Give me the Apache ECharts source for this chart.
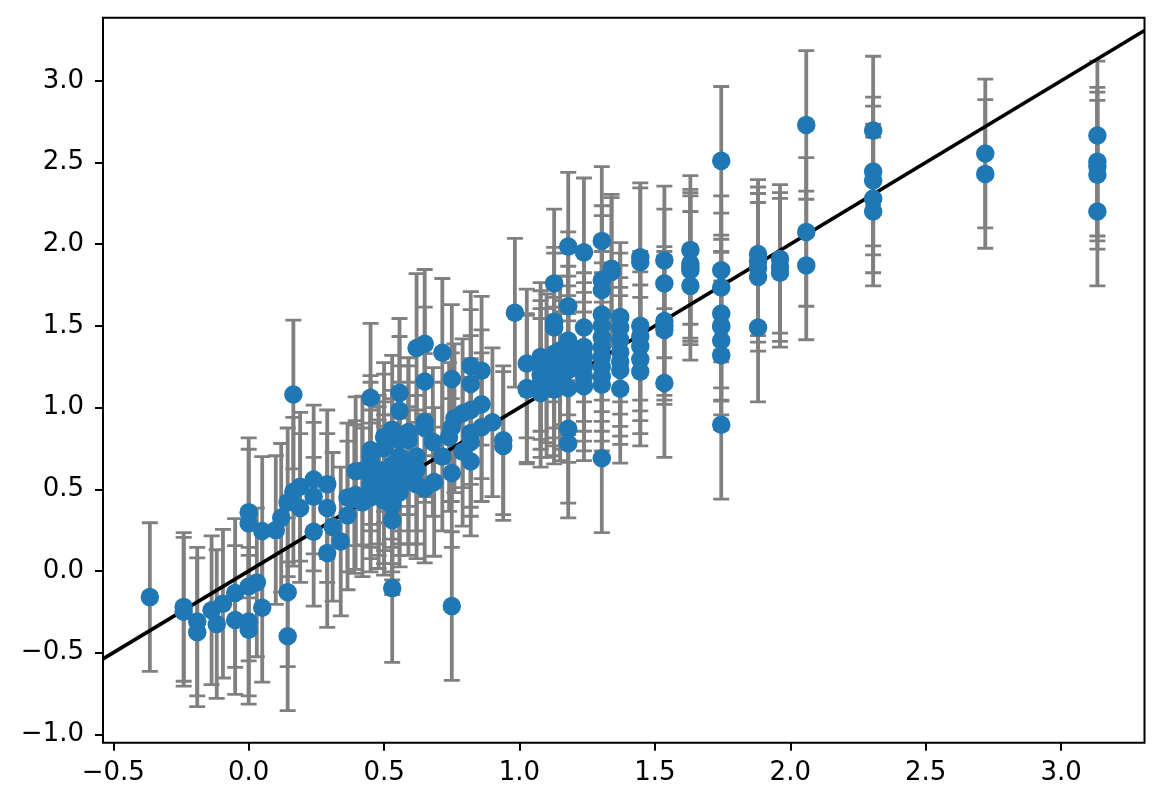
<!DOCTYPE html>
<html><head><meta charset="utf-8">
<style>html,body{margin:0;padding:0;background:#fff}#c{width:1163px;height:807px}</style>
<script src="https://cdn.jsdelivr.net/npm/echarts@6/dist/echarts.min.js"></script>
</head><body><div id="c"></div>
<script>
const xTicks = [-0.5,0,0.5,1,1.5,2,2.5,3];
const yTicks = [-1,-0.5,0,0.5,1,1.5,2,2.5,3];
const errorHalfWidth = 0.455;
const lineEnds = [-0.538, 3.308];
const pointX = [
 3.134,3.134,3.134,3.134,3.134, 2.72,2.72, 2.306,2.306,2.306,2.306,2.306,
 2.059,2.059,2.059, 1.962,1.962,1.962, 1.881,1.881,1.881,1.881,1.881,
 1.745,1.745,1.745,1.745,1.745,1.745,1.745,1.745,1.745,
 1.631,1.631,1.631,1.631,1.631, 1.535,1.535,1.535,1.535,1.535,1.535,
 1.446,1.446,1.446,1.446,1.446,1.446,1.446,
 1.372,1.372,1.372,1.372,1.372,1.372,1.372, 1.34,1.34,
 1.304,1.304,1.304,1.304,1.304,1.304,1.304,1.304,1.304,1.304,1.304,1.304,
 1.238,1.238,1.238,1.238,1.238,1.238,1.238,
 1.18,1.18,1.18,1.18,1.18,1.18,1.18,1.18,1.18,
 1.15,1.15,1.15,
 1.128,1.128,1.128,1.128,1.128,1.128,1.128,1.128,
 1.10,1.10,
 1.078,1.078,1.078,1.078,1.078, 1.027,1.027,1.027, 0.983, 0.94,0.94, 0.90,
 0.86,0.86,0.86, 0.82,0.82,0.82,0.82,0.82,0.82, 0.79,0.79,
 0.76,0.75,0.75,0.75,0.75,0.74, 0.715,0.715, 0.685,0.68,
 0.65,0.65,0.65,0.65,0.65, 0.62,0.62,0.62,0.62,
 0.59,0.59,0.59,0.59,
 0.557,0.557,0.557,0.557,0.557,0.557,0.557,
 0.53,0.53,0.53,0.53,0.53,0.53,0.53,0.53,
 0.50,0.50,0.50,0.50,0.50, 0.48,0.48,0.48,
 0.45,0.45,0.45,0.45,0.45,0.45, 0.42,0.42, 0.395,0.395,0.39,
 0.365,0.365, 0.34,0.31, 0.29,0.29,0.29, 0.24,0.24,0.24,
 0.19,0.19, 0.165,0.165, 0.144,0.144,0.144, 0.12,0.10,0.05,0.05,
 0.03,0,0,0,0,0, -0.05,-0.05,-0.095,-0.118,-0.137,-0.19,-0.19,-0.24,-0.24,-0.365
];
const pointY = [
 2.665,2.505,2.475,2.425,2.20, 2.555,2.43, 2.695,2.445,2.39,2.28,2.20,
 2.73,2.075,1.87, 1.91,1.86,1.825, 1.94,1.895,1.855,1.80,1.49,
 2.51,1.84,1.735,1.575,1.50,1.495,1.41,1.32,0.895,
 1.965,1.88,1.86,1.84,1.745, 1.90,1.76,1.53,1.50,1.475,1.15,
 1.92,1.89,1.50,1.435,1.375,1.295,1.22,
 1.555,1.49,1.415,1.34,1.28,1.23,1.115, 1.85,1.83,
 2.02,1.78,1.72,1.57,1.50,1.43,1.37,1.31,1.25,1.19,1.14,0.69,
 1.95,1.49,1.37,1.31,1.25,1.19,1.13,
 1.985,1.62,1.41,1.35,1.29,1.23,1.12,0.87,0.78,
 1.35,1.2,1.13,
 1.76,1.525,1.49,1.33,1.27,1.22,1.16,1.11,
 1.24,1.15,
 1.31,1.26,1.2,1.15,1.09, 1.27,1.12,1.11, 1.58, 0.80,0.765, 0.91,
 1.225,1.02,0.88, 1.255,1.145,0.985,0.845,0.79,0.67, 0.965,0.73,
 0.935,1.175,0.88,0.60,-0.215,0.82, 1.335,0.70, 0.545,0.79,
 1.39,1.16,0.91,0.875,0.505, 1.365,0.70,0.62,0.53,
 0.85,0.80,0.62,0.55,
 1.09,0.98,0.80,0.70,0.62,0.55,0.48,
 0.865,0.65,0.60,0.50,0.45,0.40,0.31,-0.105,
 0.82,0.75,0.58,0.50,0.43, 0.62,0.55,0.47,
 1.06,0.74,0.70,0.60,0.53,0.45, 0.615,0.42, 0.61,0.465,0.44,
 0.45,0.34, 0.18,0.27, 0.53,0.385,0.11, 0.56,0.455,0.24,
 0.515,0.385, 1.08,0.485, 0.42,-0.13,-0.40, 0.325,0.25,0.245,-0.225,
 -0.07,0.36,0.29,-0.095,-0.31,-0.36, -0.135,-0.30,-0.20,-0.325,-0.24,-0.31,-0.375,-0.22,-0.25,-0.16
];
const points = pointX.map((x,i)=>[x,pointY[i]]);
const fontFamily = '"DejaVu Sans"';
const fmt = v => String(Number(v).toFixed(1)).replace('-','\u2212');
const axisBase = {
  type:'value', scale:false,
  axisLine:{show:false,onZero:false}, splitLine:{show:false},
  axisTick:{show:true,length:8,inside:false,lineStyle:{color:'#000',width:2}},
  axisLabel:{color:'#000',fontFamily,fontSize:26,formatter:fmt,showMinLabel:true,showMaxLabel:true}
};
const chart = echarts.init(document.getElementById('c'),null,{renderer:'canvas'});
chart.setOption({
  animation:false, backgroundColor:'#fff',
  grid:{left:103,right:18.5,top:17.7,bottom:64.3,show:true,borderColor:'#000',borderWidth:2,backgroundColor:'#fff'},
  xAxis:Object.assign({},axisBase,{min:lineEnds[0],max:lineEnds[1],
    axisTick:Object.assign({},axisBase.axisTick,{customValues:xTicks}),
    axisLabel:Object.assign({},axisBase.axisLabel,{customValues:xTicks,margin:18})}),
  yAxis:Object.assign({},axisBase,{min:-1.051,max:3.386,
    axisTick:Object.assign({},axisBase.axisTick,{customValues:yTicks}),
    axisLabel:Object.assign({},axisBase.axisLabel,{customValues:yTicks,margin:19})}),
  series:[
    {type:'custom',z:1,clip:true,silent:true,data:points,
     encode:{x:0,y:1},
     renderItem(params,api){
       const x=api.value(0),y=api.value(1);
       const t=api.coord([x,y+errorHalfWidth]),b=api.coord([x,y-errorHalfWidth]);
       const cap=8;
       const style={stroke:'#808080',lineWidth:3.8,fill:null};
       const capStyle={stroke:'#808080',lineWidth:2.8,fill:null};
       return {type:'group',children:[
         {type:'line',shape:{x1:t[0],y1:t[1],x2:b[0],y2:b[1]},style},
         {type:'line',shape:{x1:t[0]-cap,y1:t[1],x2:t[0]+cap,y2:t[1]},style:capStyle},
         {type:'line',shape:{x1:b[0]-cap,y1:b[1],x2:b[0]+cap,y2:b[1]},style:capStyle}
       ]};
     }},
    {type:'line',z:2,silent:true,symbol:'none',clip:true,
     data:lineEnds.map(v=>[v,v]),lineStyle:{color:'#000',width:3.6}},
    {type:'scatter',z:3,silent:true,data:points,symbol:'circle',symbolSize:18.5,
     itemStyle:{color:'#1f77b4',opacity:1}}
  ]
});
</script></body></html>
